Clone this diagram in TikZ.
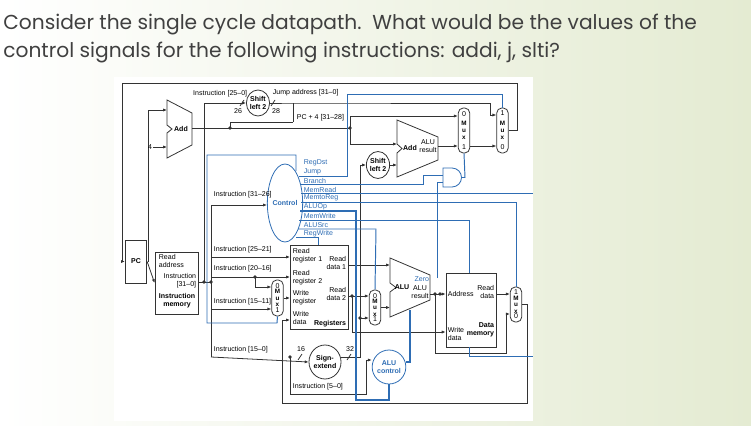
\documentclass[tikz,border=0pt]{standalone}
\usepackage{fontspec}
\setmainfont{Liberation Sans}
\newfontfamily\titlefont{Poppins}
\usetikzlibrary{arrows.meta, positioning, calc, shapes.geometric}
\definecolor{ctlblue}{HTML}{2E6DB4}
\definecolor{wirecol}{HTML}{333333}
\definecolor{bgright}{HTML}{E4EBD2}
\definecolor{titlecol}{HTML}{404040}

\begin{document}
\begin{tikzpicture}[x=0.02cm, y=-0.02cm,
  wire/.style={draw=wirecol, line width=0.45pt},
  ctl/.style={draw=ctlblue, line width=0.55pt},
  arr/.style={-{Latex[length=2.2pt,width=1.8pt]}},
  lbl/.style={font=\fontsize{4}{4.4}\selectfont, inner sep=0.3pt, align=left},
  blbl/.style={lbl, font=\fontsize{4}{4.4}\selectfont\bfseries},
  unit/.style={draw=wirecol, line width=0.45pt, fill=white},
  mux/.style={unit, rounded corners=0.1cm, minimum width=0.23cm,
              font=\fontsize{3.6}{3.8}\selectfont\bfseries, align=center, inner sep=0pt},
  dot/.style={circle, fill=wirecol, inner sep=0pt, minimum size=2pt}
]
  % page
  \shade[left color=white, right color=bgright] (0,0) rectangle (751,426);
  \fill[white] (114,77) rectangle (533,421);
  \node[anchor=base west, font=\titlefont\fontsize{11.5}{14}\selectfont, text=titlecol, inner sep=0]
    (title1) at (3,30) {Consider the single cycle datapath.\ \ What would be the values of the};
  \node[anchor=base west, font=\titlefont\fontsize{11.5}{14}\selectfont, text=titlecol, inner sep=0]
    (title2) at (3,57) {control signals for the following instructions: addi, j, slti?};

  % units
  \node[unit, minimum width=0.28cm, minimum height=0.86cm, font=\fontsize{4}{4}\selectfont\bfseries] (pc) at (136,261.5) {PC};
  \node[unit, minimum width=0.86cm, minimum height=1.24cm] (imem) at (176.5,283) {};
  \node[lbl, anchor=north west] at (158,254) {Read\\address};
  \node[lbl, anchor=east, align=right] at (197,281) {Instruction\\{}[31--0]};
  \node[blbl, anchor=north, align=center] at (177,293) {Instruction\\memory};

  \node[unit, minimum width=1.16cm, minimum height=1.68cm] (regs) at (319,287) {};
  \node[lbl, anchor=north west] at (292,248) {Read\\register 1};
  \node[lbl, anchor=north west] at (292,270) {Read\\register 2};
  \node[lbl, anchor=north west] at (292,290) {Write\\register};
  \node[lbl, anchor=north west] at (292,311) {Write\\data};
  \node[lbl, anchor=east, align=right] at (347,263) {Read\\data 1};
  \node[lbl, anchor=east, align=right] at (347,294) {Read\\data 2};
  \node[blbl, anchor=south east] at (347,328) {Registers};

  \node[unit, minimum width=1.0cm, minimum height=1.48cm] (dmem) at (471,310) {};
  \node[lbl, anchor=west] at (447,294) {Address};
  \node[lbl, anchor=east, align=right] at (495,292) {Read\\data};
  \node[lbl, anchor=west] at (447,334) {Write\\data};
  \node[blbl, anchor=east, align=right] at (495,330) {Data\\memory};

  \node[unit, ellipse, minimum width=0.4cm, minimum height=0.52cm, font=\fontsize{4}{4.4}\selectfont\bfseries, align=center, inner sep=0pt] (shjmp) at (258,103) {Shift\\left 2};
  \node[unit, ellipse, minimum width=0.44cm, minimum height=0.54cm, font=\fontsize{4}{4.4}\selectfont\bfseries, align=center, inner sep=0pt] (shbr) at (378,165) {Shift\\left 2};
  \node[unit, ellipse, minimum width=0.6cm, minimum height=0.68cm, font=\fontsize{4}{4.4}\selectfont\bfseries, align=center, inner sep=0pt] (sext) at (325,362) {Sign-\\extend};
  \node[unit, ellipse, draw=ctlblue, text=ctlblue, minimum width=0.58cm, minimum height=0.68cm, font=\fontsize{4}{4.4}\selectfont\bfseries, align=center, inner sep=0pt] (aluctl) at (389,367) {ALU\\control};
  \node[unit, ellipse, draw=ctlblue, text=ctlblue, minimum width=0.64cm, minimum height=1.56cm, font=\fontsize{4}{4.4}\selectfont\bfseries, inner sep=0pt] (control) at (285,203) {Control};

  % adders and ALU
  \draw[unit] (167,100) -- (192,113) -- (192,145) -- (167,158) -- (167,133) -- (172,129) -- (167,125) -- cycle;
  \node[blbl] (addpc) at (181,129) {Add};
  \draw[unit] (397,120) -- (438,137) -- (438,160) -- (397,177) -- (397,153) -- (402,148.5) -- (397,144) -- cycle;
  \node[blbl] (addbr) at (410,148) {Add};
  \node[lbl, align=center] at (428,146) {ALU\\result};
  \draw[unit] (390,258) -- (430,275) -- (430,300) -- (390,317) -- (390,292) -- (396,287.5) -- (390,283) -- cycle;
  \node[blbl] (alu) at (402,287) {ALU};
  \node[lbl, align=center] at (420,292) {ALU\\result};
  \node[lbl, text=ctlblue, anchor=east] at (430,279) {Zero};

  % AND gate
  \draw[unit, draw=ctlblue] (443,168) -- (452,168) arc[start angle=-90, end angle=90, radius=9.5] -- (443,187) -- cycle;
  \coordinate (andout) at (461.5,177.5);

  % muxes
  \node[mux, minimum height=0.9cm] (muxbr) at (464,130.5) {M\\u\\x};
  \node[mux, minimum height=0.9cm] (muxjmp) at (502.5,130.5) {M\\u\\x};
  \node[mux, minimum height=0.72cm] (muxdst) at (277.5,298) {M\\u\\x};
  \node[mux, minimum height=0.7cm] (muxsrc) at (375,307.5) {M\\u\\x};
  \node[mux, minimum height=0.7cm] (muxmem) at (516,304.5) {M\\u\\x};
  \foreach \m/\a/\b in {muxbr/0/1, muxjmp/1/0, muxdst/0/1, muxsrc/0/1, muxmem/1/0} {
    \node[lbl, anchor=north] at ([yshift=-1.5pt]\m.north) {\a};
    \node[lbl, anchor=south] at ([yshift=1.5pt]\m.south) {\b};
  }

  % datapath wires
  \draw[wire, arr] (muxjmp.east) -- (517,130.5) -- (517,83) -- (122,83) -- (122,261.5) -- (pc.west);
  \draw[wire, arr] (pc.east) -- (imem.west);
  \draw[wire, arr] (148,261.5) -- (148,110) -- (167,110);
  \node[lbl] (four) at (150,147) {4};
  \draw[wire, arr] (four.east) -- (167,147);
  \draw[wire, arr] (192,128) -- (350,128) -- (350,144) -- (397,144);
  \draw[wire, arr] (350,128) -- (350,116) -- (muxbr.west |- 0,116);
  \draw[wire] (230,128) -- (230,122) -- (293,122);
  \node[dot] at (230,128) {};
  \node[dot] at (350,128) {};
  \node[lbl, anchor=west] at (296,118) {PC + 4 [31--28]};
  \draw[wire, arr] (shjmp.east) -- (293,103) -- (490,103) -- (490,115) -- (muxjmp.west |- 0,115);
  \draw[wire] (293,103) -- (293,122);
  \node[lbl] at (238,111) {26};
  \node[lbl] at (276,111) {28};
  \draw[wire] (240,106) -- (244,100);
  \draw[wire] (271,106) -- (275,100);
  \node[lbl, anchor=south east] at (248,98) {Instruction [25--0]};
  \node[lbl, anchor=south west] at (272,97) {Jump address [31--0]};
  \draw[wire, arr] (438,146) -- (muxbr.west |- 0,146);
  \draw[wire, arr] (muxbr.east |- 0,146) -- (muxjmp.west |- 0,146);
  \draw[wire, arr] (shbr.east) -- (397,165);

  % instruction fields
  \draw[wire] (imem.east |- 0,282) -- (211,282);
  \node[dot] at (204,282) {};
  \node[dot] at (211,282) {};
  \draw[wire, arr] (204,282) -- (204,103) -- (shjmp.west);
  \draw[wire, arr] (211,357) -- (211,205) -- (control.west |- 0,205);
  \node[lbl, anchor=south west] at (213,199) {Instruction [31--26]};
  \draw[wire, arr] (211,257) -- (290,257);
  \node[lbl, anchor=south west] at (213,254) {Instruction [25--21]};
  \draw[wire, arr] (211,277) -- (290,277);
  \node[lbl, anchor=south west] at (213,273) {Instruction [20--16]};
  \draw[wire, arr] (255,277) -- (255,287) -- (muxdst.west |- 0,287);
  \node[dot] at (255,277) {};
  \draw[wire, arr] (211,309) -- (muxdst.west |- 0,309);
  \node[lbl, anchor=south west] at (213,306) {Instruction [15--11]};
  \draw[wire, arr] (muxdst.east) -- (290,298);
  \draw[wire, arr] (211,357) -- (sext.west);
  \node[lbl, anchor=south west] at (213,354) {Instruction [15--0]};
  \node[lbl] at (301,349) {16};
  \node[lbl] at (350,349) {32};
  \draw[wire] (298,360) -- (302,354);
  \draw[wire] (347,360) -- (351,354);
  \node[dot] at (290,357) {};
  \draw[wire, arr] (290,357) -- (290,394) -- (366,394) -- (366,360) -- (aluctl.west |- 0,360);
  \node[lbl, anchor=south west] at (292,391) {Instruction [5--0]};
  \draw[wire, arr] (sext.east |- 0,357) -- (360,357) -- (360,165) -- (shbr.west);
  \draw[wire, arr] (360,318) -- (muxsrc.west |- 0,318);
  \node[dot] at (360,318) {};

  % register file and ALU
  \draw[wire, arr] (348,265) -- (390,265);
  \draw[wire, arr] (348,296) -- (muxsrc.west |- 0,296);
  \node[dot] at (352,296) {};
  \draw[wire, arr] (352,296) -- (352,332) -- (dmem.west |- 0,332);
  \draw[wire, arr] (muxsrc.east) -- (390,307.5);
  \draw[wire, arr] (430,294) -- (dmem.west |- 0,294);
  \node[dot] at (435,294) {};
  \node[dot] at (440,294) {};
  \draw[wire, arr] (435,294) -- (435,353) -- (506,353) -- (506,314) -- (muxmem.west |- 0,314);
  \draw[wire, arr] (dmem.east |- 0,294) -- (muxmem.west |- 0,294);
  \draw[wire, arr] (muxmem.east) -- (527,304.5) -- (527,403) -- (282,403) -- (282,320) -- (290,320);

  % control signals
  \node[lbl, text=ctlblue, anchor=west] at (303,163) {RegDst};
  \node[lbl, text=ctlblue, anchor=west] at (303,172) {Jump};
  \node[lbl, text=ctlblue, anchor=west] at (303,181) {Branch};
  \node[lbl, text=ctlblue, anchor=west] at (303,189.5) {MemRead};
  \node[lbl, text=ctlblue, anchor=west] at (303,198) {MemtoReg};
  \node[lbl, text=ctlblue, anchor=west] at (303,207) {ALUOp};
  \node[lbl, text=ctlblue, anchor=west] at (303,216) {MemWrite};
  \node[lbl, text=ctlblue, anchor=west] at (303,225) {ALUSrc};
  \node[lbl, text=ctlblue, anchor=west] at (303,234) {RegWrite};
  \draw[ctl] (296,171) -- (296,155) -- (207,155) -- (207,323) -- (277,323) -- (muxdst.south);
  \draw[ctl] (299,176) -- (347,176) -- (347,94) -- (502.5,94) -- (muxjmp.north);
  \draw[ctl] (300,184) -- (423,184) -- (423,175) -- (443,175);
  \draw[ctl] (437,278) -- (437,182) -- (443,182);
  \draw[ctl] (andout) -- (465,177.5) -- (muxbr.south);
  \draw[ctl] (301,193) -- (533,193);
  \draw[ctl] (301,202) -- (516,202) -- (muxmem.north);
  \draw[ctl, line width=0.9pt] (300,211) -- (356,211) -- (356,400) -- (389,400) -- (aluctl.south);
  \draw[ctl] (299,220) -- (469,220) -- (dmem.north -| 469,0);
  \draw[ctl] (298,229) -- (376,229) -- (muxsrc.north);
  \draw[ctl] (296,237) -- (318,237) -- (regs.north -| 318,0);
  \draw[ctl, line width=0.9pt] (aluctl.east |- 0,362) -- (410,362) -- (410,310);
  \draw[ctl] (469,347) -- (469,356) -- (533,356);
\end{tikzpicture}
\end{document}
